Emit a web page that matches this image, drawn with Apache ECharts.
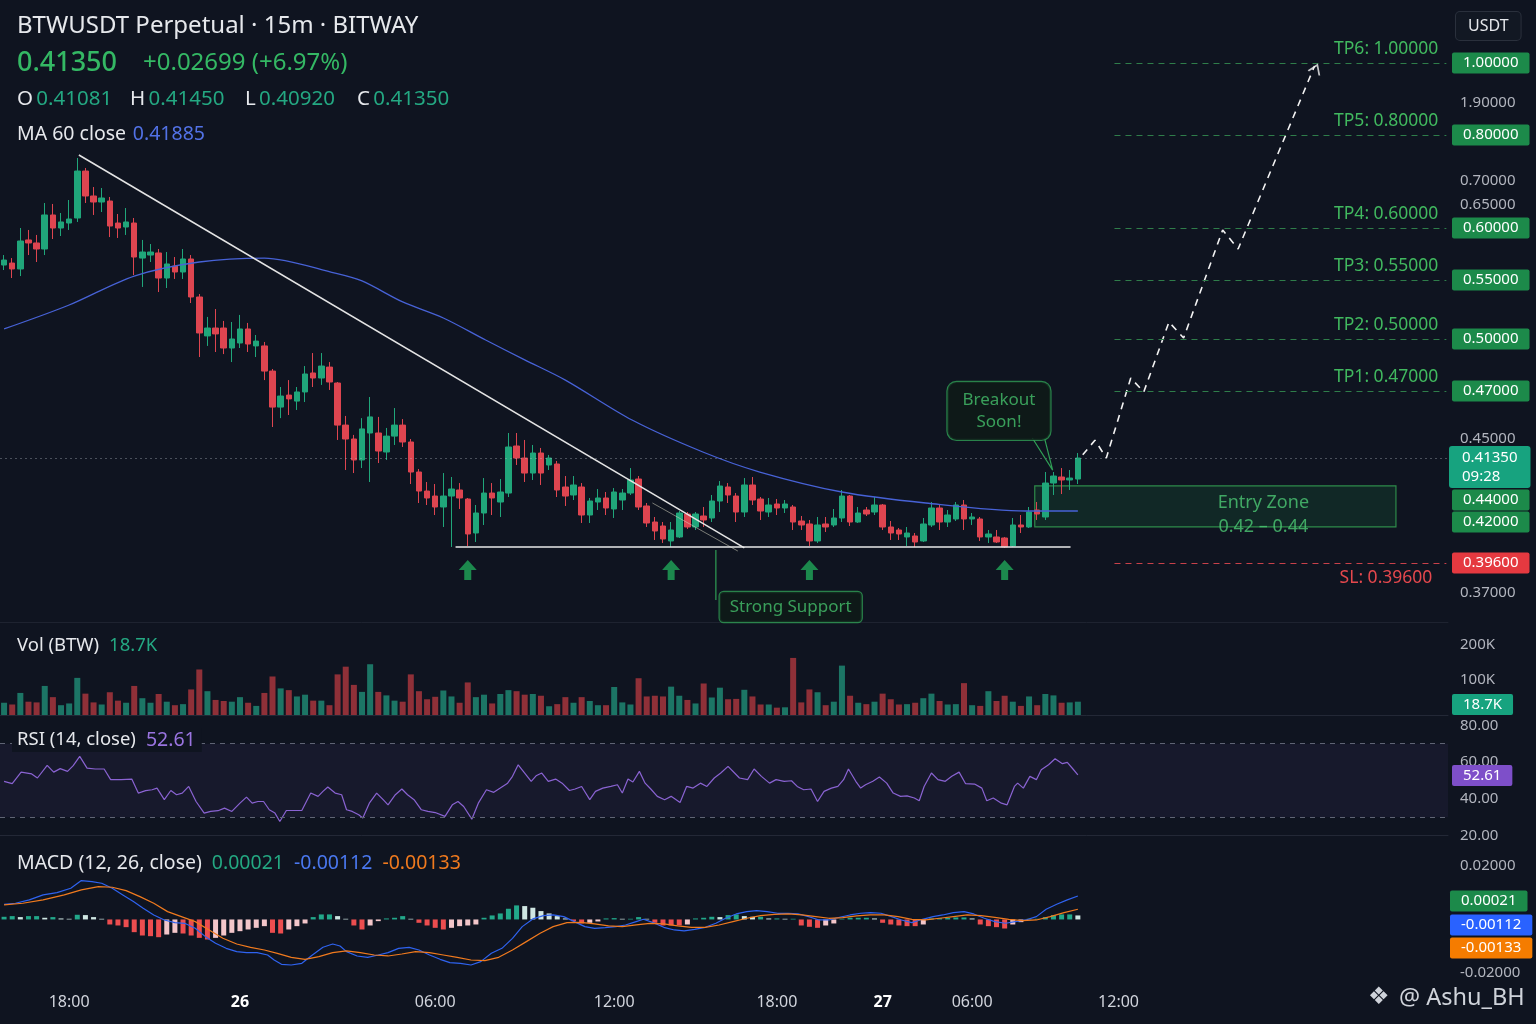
<!DOCTYPE html>
<html>
<head>
<meta charset="utf-8">
<script src="https://cdn.jsdelivr.net/npm/echarts@6/dist/echarts.min.js"></script>
<style>
html,body{margin:0;padding:0;background:#0f1420;}
#c{width:1536px;height:1024px;}
</style>
</head>
<body>
<div id="c"></div>
<script>
// ---------------- DATA ----------------
const titleText = 'BTWUSDT Perpetual · 15m · BITWAY';
const lastPriceText = '0.41350';
const changeText = '+0.02699 (+6.97%)';
const ohlcText = ['0.41081', '0.41450', '0.40920', '0.41350'];
const maText = '0.41885';
const volText = '18.7K';
const rsiText = '52.61';
const macdTexts = ['0.00021', '-0.00112', '-0.00133'];
const countdownText = '09:28';

const slotCount = 178;
const xTickIndex = [8, 29, 53, 75, 95, 108, 119, 137];
const xTickLabels = ['18:00', '26', '06:00', '12:00', '18:00', '27', '06:00', '12:00'];

// price axis of the reference (non-linear): prices and their axis levels
const scalePrices = [0.37, 0.396, 0.42, 0.44, 0.45, 0.47, 0.50, 0.55, 0.60, 0.70, 0.80, 0.90, 1.00];
const scaleLevels = [29, 59, 100, 122, 183, 231, 283, 342, 394, 441, 487, 519, 559];
const yTickPrices = [0.9, 0.7, 0.65, 0.45, 0.37];
const yTickText = ['1.90000', '0.70000', '0.65000', '0.45000', '0.37000'];

// [open, close, low, high]
const candles = [
[0.5644,0.5692,0.5596,0.5740],[0.5663,0.5606,0.5519,0.5711],[0.5606,0.5875,0.5538,0.6000],[0.5885,0.5856,0.5740,0.5981],
[0.5856,0.5798,0.5673,0.5933],[0.5798,0.6277,0.5740,0.6532],[0.6277,0.6000,0.5894,0.6511],[0.6000,0.6128,0.5923,0.6319],
[0.6106,0.6191,0.5981,0.6596],[0.6213,0.7217,0.6128,0.7500],[0.7217,0.6681,0.6532,0.7283],[0.6681,0.6553,0.6277,0.6872],
[0.6553,0.6638,0.6340,0.6851],[0.6574,0.6042,0.5913,0.6660],[0.6106,0.6000,0.5904,0.6298],[0.6021,0.6128,0.5933,0.6425],
[0.6106,0.5721,0.5548,0.6213],[0.5711,0.5769,0.5441,0.5885],[0.5740,0.5769,0.5673,0.5846],[0.5760,0.5519,0.5398,0.5798],
[0.5519,0.5654,0.5432,0.5769],[0.5634,0.5577,0.5510,0.5721],[0.5577,0.5702,0.5510,0.5798],[0.5702,0.5356,0.5305,0.5740],
[0.5356,0.5051,0.4896,0.5381],[0.5026,0.5093,0.4960,0.5187],[0.5093,0.5043,0.4925,0.5254],[0.5093,0.4948,0.4913,0.5153],
[0.4948,0.5000,0.4867,0.5144],[0.4977,0.5085,0.4948,0.5204],[0.5085,0.4971,0.4925,0.5136],[0.4960,0.4988,0.4896,0.5034],
[0.4960,0.4815,0.4763,0.4983],[0.4815,0.4633,0.4550,0.4827],[0.4633,0.4679,0.4587,0.4723],[0.4683,0.4667,0.4600,0.4763],
[0.4658,0.4696,0.4621,0.4723],[0.4696,0.4798,0.4654,0.4844],[0.4804,0.4775,0.4723,0.4919],[0.4775,0.4844,0.4735,0.4919],
[0.4838,0.4752,0.4706,0.4867],[0.4746,0.4558,0.44984,0.4752],[0.4558,0.4500,0.44492,0.4596],[0.4500,0.44656,0.44442,0.4517],
[0.44656,0.4542,0.44524,0.4587],[0.4525,0.4592,0.44295,0.4675],[0.4525,0.44803,0.44606,0.4592],[0.44787,0.4512,0.44656,0.4546],
[0.4512,0.4558,0.44902,0.4629],[0.4558,0.44951,0.44869,0.4583],[0.44951,0.44459,0.44262,0.4500],[0.44459,0.44147,0.43727,0.44508],
[0.44147,0.44033,0.43545,0.44295],[0.44065,0.43364,0.42636,0.44262],[0.43364,0.44065,0.41708,0.44442],[0.44065,0.44180,0.40538,0.44377],
[0.44164,0.44033,0.43182,0.44278],[0.44016,0.41298,0.40596,0.44033],[0.41357,0.42818,0.40830,0.43545],[0.42818,0.44114,0.41825,0.44360],
[0.44114,0.44033,0.42636,0.44278],[0.43818,0.44131,0.42455,0.44344],[0.44114,0.44869,0.44049,0.45250],[0.44885,0.44688,0.44574,0.45250],
[0.44688,0.44442,0.44295,0.44984],[0.44442,0.44770,0.44328,0.44902],[0.44770,0.44442,0.44246,0.44853],[0.44574,0.44688,0.44492,0.44738],
[0.44590,0.44164,0.44049,0.44640],[0.44213,0.44065,0.43455,0.44393],[0.44082,0.44246,0.44000,0.44393],[0.44213,0.42636,0.41942,0.44278],
[0.42636,0.43909,0.41942,0.44033],[0.43818,0.44033,0.43091,0.44180],[0.44033,0.43273,0.42636,0.44131],[0.43182,0.44131,0.42364,0.44196],
[0.44000,0.44114,0.43091,0.44180],[0.44114,0.44328,0.44082,0.44524],[0.44344,0.43364,0.43091,0.44393],[0.43455,0.41942,0.41708,0.43727],
[0.42000,0.41474,0.40947,0.42455],[0.41766,0.41006,0.40772,0.42000],[0.40889,0.41532,0.40538,0.42000],[0.41123,0.42818,0.41064,0.43000],
[0.42727,0.41708,0.41591,0.42909],[0.41708,0.42727,0.41532,0.42909],[0.42545,0.42182,0.41708,0.43364],[0.42364,0.43909,0.42000,0.44082],
[0.43909,0.44229,0.42909,0.44311],[0.44213,0.44082,0.43727,0.44278],[0.44065,0.42909,0.42000,0.44114],[0.42909,0.44246,0.42455,0.44360],
[0.44246,0.44000,0.43545,0.44377],[0.44016,0.43000,0.42182,0.44049],[0.42909,0.43545,0.42455,0.44033],[0.43636,0.43273,0.42636,0.44016],
[0.43273,0.43636,0.42818,0.44000],[0.43364,0.42000,0.41532,0.43545],[0.42091,0.41825,0.41532,0.42545],[0.41883,0.40889,0.40596,0.42182],
[0.40889,0.41825,0.40772,0.42455],[0.41883,0.41708,0.41415,0.42455],[0.41825,0.42364,0.41708,0.43182],[0.42364,0.44065,0.42000,0.44164],
[0.44065,0.42000,0.41766,0.44082],[0.42000,0.42818,0.41942,0.43364],[0.43091,0.42727,0.42545,0.43364],[0.42909,0.43545,0.42636,0.44049],
[0.43545,0.41708,0.41532,0.43636],[0.41708,0.41357,0.40947,0.42091],[0.41532,0.41298,0.40947,0.41649],[0.41123,0.41357,0.40596,0.41708],
[0.41181,0.40830,0.40538,0.41357],[0.40889,0.41883,0.40830,0.42364],[0.41825,0.43273,0.41708,0.43818],[0.43273,0.42000,0.41532,0.43545],
[0.42000,0.42636,0.41708,0.43091],[0.42273,0.43545,0.42091,0.43818],[0.43545,0.42273,0.41532,0.44000],[0.42273,0.42455,0.41825,0.42818],
[0.42273,0.41123,0.40889,0.42455],[0.41123,0.41298,0.40772,0.41532],[0.41123,0.40830,0.40772,0.41532],[0.41064,0.40538,0.40479,0.41123],
[0.40596,0.41825,0.40538,0.42364],[0.41825,0.41708,0.41357,0.42636],[0.41708,0.42909,0.41649,0.43364],[0.43091,0.42727,0.42182,0.43818],
[0.42455,0.44278,0.42182,0.44459],[0.44278,0.44393,0.44082,0.44459],[0.44377,0.44328,0.44098,0.44524],[0.44328,0.44360,0.44164,0.44492],
[0.44344,0.44688,0.44262,0.44770]
];

// MA 60: [candle index, price]
const maPoints = [[0,0.5085],[8,0.5288],[16,0.5538],[24,0.5673],[32,0.5711],[40.7,0.5567],[44,0.5492],[49,0.5314],[54,0.5178],
[59.2,0.4994],[64,0.4880],[69,0.4763],[77.2,0.4579],[85.9,0.44787],[92.9,0.44459],[103,0.44131],[113.3,0.43727],[125.6,0.4300],[132,0.4300]];

// drawn annotations (candle index, price)
const trendMain = [[9.2, 0.7565], [91, 0.4048]];
const trendInner = [[79.7, 0.4373], [90.2, 0.4030]];
const supportLine = [[55.5, 0.4054], [131.1, 0.4054]];
const projection = [[132.6,0.4474],[134.1,0.4498],[135.5,0.4469],[138.5,0.4775],[140.1,0.4696],[143.2,0.5144],[145.0,0.5009],[149.8,0.5981],[151.7,0.5798],[161.1,0.9925]];
const entryZone = { x: [126.7, 171.1], price: [0.4423, 0.4171] };
const tpNames = ['TP6', 'TP5', 'TP4', 'TP3', 'TP2', 'TP1'];
const tpPrices = [1.00, 0.80, 0.60, 0.55, 0.50, 0.47];
const zonePrices = [0.44, 0.42];
const slPrice = 0.396;
const tpSpan = [136.5, 177.3];
const supportArrowIdx = [57, 82, 99, 123];
const arrowPrice = 0.3899;
const breakoutNote = { at: [122.3, 0.4617], text: 'Breakout\nSoon!', tail: [[126.4,0.4504],[128.9,0.4449],[127.9,0.4504]] };
const supportNote = { at: [96.7, 0.3579], text: 'Strong Support', link: [[87.5,0.4036],[87.5,0.3640]] };
const zoneNote = { at: [154.8, 0.42636], text: 'Entry Zone\n0.42 – 0.44' };

// volume (K)
const volumes = [35,30,63,38,36,83,51,28,33,106,61,36,30,65,41,35,83,48,35,60,38,28,31,73,130,68,43,40,38,51,
35,26,63,110,76,71,53,58,41,41,28,116,138,86,66,145,66,56,41,38,116,68,45,52,70,53,35,93,51,58,33,60,71,68,58,60,
55,25,31,51,35,51,40,28,28,80,36,30,105,53,55,53,81,55,43,33,90,50,78,45,46,72,53,30,30,21,22,163,36,73,65,28,38,141,55,35,
31,38,61,45,30,31,35,48,61,40,30,31,91,28,26,68,40,55,38,26,53,28,60,56,35,36,38];
const volTicks = [100, 200];

// RSI (candle index, value)
const rsiPoints = [[0,49.5],[1,48.2],[2.1,54.5],[3.4,53.5],[4.1,51.3],[5.3,58.2],[6.1,54.5],[6.9,56.4],[7.8,54.9],[8.5,58],[9.3,63.1],
[10.2,56.7],[11.2,56.2],[12.3,56.2],[13.1,50.4],[14.4,50.4],[15.7,50.7],[16.5,43.1],[17.4,44.4],[18.2,44.9],[18.8,45.8],[19.7,39.5],
[20.5,44.5],[21.2,42.2],[21.9,43.1],[22.7,46.7],[23.6,38.5],[24.6,32.2],[25.4,33.1],[26.3,33.5],[27.1,34.9],[28,33.1],[29,37.6],
[29.8,40.9],[30.5,37.6],[31.2,38.5],[31.9,38.5],[32.6,34],[33.3,32.2],[33.9,27.6],[34.7,33.6],[35.6,33.6],[36.6,33.6],[37.7,43.1],
[38.6,41.3],[39.2,44],[39.8,46.4],[40.7,43.1],[41.5,42.2],[42.1,34],[42.8,33.1],[43.6,31.3],[44.1,29.5],[44.9,37.6],[45.8,43.1],
[46.6,39.5],[47.2,36.7],[48.1,42.2],[48.9,45.3],[49.6,42.2],[50.4,39.5],[51.3,34],[52.1,33.1],[53,32.5],[54.2,30.4],[55.1,36.7],
[55.8,38.5],[56.5,35.8],[57.5,28.9],[58.3,37.6],[59.3,44.9],[60.2,43.5],[61,45.8],[61.9,48.5],[62.5,52.2],[63.2,58.5],[64,54],
[64.8,49.5],[65.4,52.5],[66.1,54],[66.9,49.5],[67.8,50.7],[68.6,48.5],[69.5,44.5],[70.2,45.3],[71,46.7],[72,39.5],[72.7,44],
[73.6,45.8],[74.6,46.7],[75.4,47.6],[76,43.1],[76.7,50.7],[77.3,49.1],[78.1,54.9],[78.8,48.5],[79.5,45.3],[80.3,41.3],[81.2,39.5],
[82,41.3],[83.1,38],[83.9,46.7],[84.7,45.8],[85.6,48.5],[86.4,46.7],[87.3,51.3],[88.1,54],[89,57.6],[89.8,54],[90.4,51.3],
[91.4,50.4],[92.2,56.2],[93.1,52.2],[94.1,48.5],[94.9,50.4],[95.9,49.5],[96.8,49.8],[97.5,46.7],[98.3,44.9],[99.2,45.3],[100,38.5],
[100.8,44],[101.7,45.8],[102.5,46.7],[103.2,50.4],[103.8,56.2],[104.7,49.5],[105.3,45.8],[105.9,47.6],[106.8,49.5],[107.6,51.8],
[108.5,48.5],[109.3,43.1],[110.2,41.3],[111,41.6],[111.9,40.4],[112.5,38.9],[113.1,46.7],[114,54],[114.8,50.4],[115.7,49.5],
[116.5,52.2],[117.4,54.5],[118.2,48.2],[119.3,48],[120.2,45.8],[120.8,38.9],[121.6,40.4],[122.6,37.6],[123.3,36.7],[124.2,46.7],
[124.6,48.5],[125.3,45.8],[126.1,52.2],[126.9,50.4],[127.5,55.8],[128.4,58.5],[129.2,61.8],[130.1,59.1],[130.7,59.8],[131.4,56.2],[132,53]];
const rsiTicks = [20, 40, 60, 80];

// MACD (candle index, value)
const macdLine = [[0,0.00567],[1.4,0.00605],[3.1,0.0073],[4.8,0.00917],[6.5,0.01004],[8.2,0.01166],[9.5,0.01453],[10.8,0.01415],
[12,0.01353],[13.3,0.01166],[14.6,0.00917],[15.9,0.00667],[17.1,0.00418],[18.4,0.00168],[19.7,-0.00019],[21,-0.00118],[22.2,-0.00143],
[23.5,-0.0033],[24.75,-0.00642],[26,-0.00891],[27.3,-0.01079],[28.6,-0.01203],[29.8,-0.01241],[31.1,-0.01241],[32.4,-0.01328],
[33.2,-0.01515],[34.1,-0.01677],[35.3,-0.01702],[36.6,-0.0164],[37.9,-0.01328],[39.2,-0.01041],[40.4,-0.00917],[41.3,-0.00991],
[42.1,-0.01203],[43.4,-0.01365],[44.7,-0.01415],[46,-0.01328],[47.2,-0.01241],[48.5,-0.01079],[49.8,-0.01041],[51,-0.01141],
[52.3,-0.01328],[53.6,-0.0149],[54.8,-0.01615],[56.1,-0.0164],[57.4,-0.01702],[58.6,-0.01577],[59.9,-0.01266],[61.2,-0.01079],
[62.5,-0.00705],[63.7,-0.00268],[65,0.00019],[66.3,0.00143],[67.5,0.00168],[68.8,0.00106],[70.1,-0.00081],[71.4,-0.00268],
[72.6,-0.0033],[73.9,-0.00306],[75.2,-0.00268],[76.4,-0.00206],[77.7,-0.00081],[78.6,0.00006],[79.8,-0.00118],[81.1,-0.00293],
[82.4,-0.00393],[83.6,-0.0043],[84.9,-0.00368],[86.2,-0.00293],[87.5,-0.00143],[88.7,0.00044],[90,0.00206],[91.3,0.00293],
[92.5,0.0033],[93.8,0.00293],[95.1,0.00231],[96.4,0.00231],[97.6,0.00206],[98.9,0.00106],[100.2,-0.00019],[101.4,-0.00019],
[102.7,0.00081],[104,0.00168],[105.3,0.00231],[106.5,0.00256],[107.8,0.00231],[109.1,0.00106],[110.3,-0.00019],[111.6,-0.00118],
[112.9,0.00006],[114.2,0.00106],[115.4,0.00168],[116.7,0.00256],[118,0.00293],[119.2,0.00206],[120.5,0.00044],[121.8,-0.00081],
[123.1,-0.00143],[124.3,-0.00081],[125.6,-0.00019],[126.9,0.00106],[128.1,0.0038],[129.4,0.00567],[130.7,0.0073],[132,0.00879]];
const signalLine = [[0,0.00542],[2.3,0.00605],[4.8,0.0073],[7.4,0.00917],[9.5,0.01104],[11.6,0.01228],[13.3,0.01203],[15,0.01079],
[16.7,0.00854],[18.4,0.00605],[20.1,0.00293],[21.8,0.00106],[23.5,-0.00081],[25.2,-0.00393],[26.9,-0.00705],[28.6,-0.00917],
[30.3,-0.01041],[32,-0.01141],[33.6,-0.01266],[35.3,-0.01415],[37,-0.0149],[38.7,-0.0139],[40.4,-0.01241],[42.1,-0.01178],
[43.8,-0.01241],[45.5,-0.01328],[47.2,-0.01365],[48.9,-0.01291],[50.6,-0.01203],[52.3,-0.01241],[54,-0.01328],[55.7,-0.01415],
[57.4,-0.01515],[59.1,-0.0154],[60.8,-0.01415],[62.5,-0.01141],[64.2,-0.00829],[65.9,-0.00518],[67.5,-0.00268],[69.2,-0.00118],
[70.9,-0.00106],[72.6,-0.00168],[74.3,-0.00243],[76,-0.00268],[77.7,-0.00206],[79.4,-0.00143],[81.1,-0.00168],[82.8,-0.00243],
[84.5,-0.00293],[86.2,-0.00293],[87.9,-0.00206],[89.6,-0.00081],[91.3,0.00044],[93,0.00143],[94.7,0.00193],[96.4,0.00206],
[98.1,0.00168],[99.8,0.00106],[101.4,0.00044],[103.1,0.00069],[104.8,0.00131],[106.5,0.00168],[108.2,0.00168],[109.9,0.00106],
[111.6,0.00006],[113.3,-0.00019],[115,0.00044],[116.7,0.00106],[118.4,0.00168],[120.1,0.00143],[121.8,0.00081],[123.5,0.00006],
[125.2,-0.00044],[126.9,-0.00019],[128.6,0.00106],[130.3,0.00256],[132,0.0038]];
const macdHist = [0.0010,0.00125,0.00088,0.00125,0.00125,0.00063,0.00088,0.00038,0.00025,0.00175,0.00163,0.00088,0.00025,
-0.00188,-0.00225,-0.00288,-0.00475,-0.006,-0.00625,-0.00663,-0.00563,-0.005,-0.00525,-0.006,-0.00688,-0.0075,-0.00688,-0.006,
-0.005,-0.00438,-0.00375,-0.00313,-0.0025,-0.005,-0.00525,-0.00375,-0.0025,-0.0015,0.00088,0.00188,0.00188,0.00125,0.00025,
-0.00225,-0.00375,-0.00225,-0.00063,0.00038,0.00063,0.00125,0.00025,-0.00125,-0.00225,-0.00313,-0.00375,-0.00313,-0.0025,
-0.00225,-0.00188,0.00063,0.0015,0.00225,0.004,0.00525,0.005,0.00438,0.00313,0.00225,0.00125,0.00038,-0.00063,-0.0015,-0.00125,
-0.00075,0.00038,0.0005,0.00025,0.00025,0.00088,0.00025,-0.00125,-0.00225,-0.00225,-0.00225,-0.00188,0.00038,0.00063,0.001,
0.00088,0.00163,0.00188,0.00125,0.001,0.001,0.00038,0.00038,0.00025,0.00025,-0.00225,-0.00275,-0.00313,-0.00225,-0.0015,
0.00025,0.00063,0.00063,0.00063,0.00038,-0.00125,-0.00188,-0.00225,-0.0025,-0.0025,-0.00188,0.00038,0.0005,0.00063,0.00075,
0.00075,0.00038,-0.00188,-0.0025,-0.00288,-0.00338,-0.00188,-0.001,0.00025,0.00025,0.00088,0.00163,0.00188,0.00188,0.0015];
const macdTicks = [-0.02, 0.02];

// ---------------- SCALE ----------------
function lv(p) {
  const P = scalePrices, L = scaleLevels, n = P.length;
  let k = 0;
  if (p >= P[n - 1]) k = n - 2;
  else if (p > P[0]) { while (k < n - 2 && p >= P[k + 1]) k++; }
  return L[k] + (p - P[k]) * (L[k + 1] - L[k]) / (P[k + 1] - P[k]);
}
const toLv = pts => pts.map(([i, p]) => [i, lv(p)]);

// ---------------- STYLE ----------------
const BG = '#0f1420';
const UP = '#20a67a', DOWN = '#de4550';
const GREEN_TXT = '#41b95f', GREEN_BOX = '#1c8a4a';
const FONT = '"Noto Sans", "Open Sans", sans-serif';
const CLEAR = 'rgba(0,0,0,0)';
const categories = Array.from({ length: slotCount }, (_, i) => String(i));
const lastClose = candles[candles.length - 1][1];

function tagLabel(text, bg) {
  return { show: true, position: 'end', distance: 4, formatter: text, backgroundColor: bg, color: '#ffffff',
    fontSize: 15, fontFamily: FONT, padding: [3, 11, 3, 11], borderRadius: 2 };
}
const hidden = { show: false };
const clearLine = { color: CLEAR, width: 1 };

const chart = echarts.init(document.getElementById('c'), null, { width: 1536, height: 1024 });

const option = {
  backgroundColor: BG,
  animation: false,
  textStyle: { fontFamily: FONT },
  grid: [
    { left: 0, right: 88, top: 0, height: 622 },
    { left: 0, right: 88, top: 625, height: 90 },
    { left: 0, right: 88, top: 717, height: 118.5 },
    { left: 0, right: 88, top: 840, height: 145 }
  ],
  xAxis: [
    { type: 'category', gridIndex: 0, data: categories, axisLabel: hidden, axisTick: hidden, axisLine: { lineStyle: { color: '#1e2330' } } },
    { type: 'value', gridIndex: 0, min: -0.5, max: slotCount - 0.5, show: false },
    { type: 'category', gridIndex: 1, data: categories, axisLabel: hidden, axisTick: hidden, axisLine: { lineStyle: { color: '#232836' } } },
    { type: 'value', gridIndex: 2, min: -0.5, max: slotCount - 0.5, axisLabel: hidden, axisTick: hidden, splitLine: hidden,
      axisLine: { show: true, onZero: false, lineStyle: { color: '#232836' } } },
    { type: 'category', gridIndex: 3, data: categories, axisTick: hidden, axisLine: hidden,
      axisLabel: { interval: (idx) => xTickIndex.indexOf(idx) >= 0, margin: 9, color: '#d1d4dc', fontSize: 16, fontFamily: FONT,
        formatter: (v, idx) => { const k = xTickIndex.indexOf(idx); if (k < 0) return ''; const t = xTickLabels[k]; return t.indexOf(':') < 0 ? '{d|' + t + '}' : t; },
        rich: { d: { color: '#ffffff', fontSize: 16, fontWeight: 'bold', fontFamily: FONT } } } },
    { type: 'value', gridIndex: 3, min: -0.5, max: slotCount - 0.5, show: false }
  ],
  yAxis: [
    { type: 'value', gridIndex: 0, position: 'right', min: 0, max: 622, splitLine: hidden, axisLine: hidden, axisTick: hidden,
      axisLabel: { customValues: yTickPrices.map(lv), color: '#b2b5be', fontSize: 15, margin: 12, fontFamily: FONT,
        formatter: (v) => { for (let k = 0; k < yTickPrices.length; k++) if (Math.abs(lv(yTickPrices[k]) - v) < 0.5) return yTickText[k]; return ''; } } },
    { type: 'value', gridIndex: 1, position: 'right', min: 0, max: 257, splitLine: hidden, axisLine: hidden, axisTick: hidden,
      axisLabel: { customValues: volTicks, color: '#b2b5be', fontSize: 15, margin: 12, fontFamily: FONT,
        formatter: (v) => volTicks.indexOf(v) >= 0 ? v + 'K' : '' } },
    { type: 'value', gridIndex: 2, position: 'right', min: 20, max: 84.5, splitLine: hidden, axisLine: hidden, axisTick: hidden,
      axisLabel: { customValues: rsiTicks, color: '#b2b5be', fontSize: 15, margin: 12, fontFamily: FONT,
        formatter: (v) => rsiTicks.indexOf(v) >= 0 ? v.toFixed(2) : '' } },
    { type: 'value', gridIndex: 3, position: 'right', min: -0.0245, max: 0.0297, splitLine: hidden, axisLine: hidden, axisTick: hidden,
      axisLabel: { customValues: macdTicks, color: '#b2b5be', fontSize: 15, margin: 12, fontFamily: FONT,
        formatter: (v) => macdTicks.indexOf(v) >= 0 ? v.toFixed(5) : '' } }
  ],
  series: [
    { name: 'Candles', type: 'candlestick', xAxisIndex: 0, yAxisIndex: 0, barWidth: 6,
      data: candles.map(c => c.map(lv)),
      itemStyle: { color: UP, color0: DOWN, borderColor: UP, borderColor0: DOWN, borderWidth: 1 },
      markLine: { silent: true, symbol: ['none', 'none'], animation: false,
        data: [{ yAxis: lv(lastClose), lineStyle: { type: [2, 3], color: 'rgba(190,195,205,0.35)', width: 1 },
          label: { show: true, position: 'end', distance: 1, offset: [0, 9], formatter: lastPriceText + '\n' + countdownText, backgroundColor: '#17a37f',
            color: '#ffffff', fontSize: 15, lineHeight: 19, fontFamily: FONT, padding: [2, 13, 2, 13], borderRadius: 3 } }] } },
    { name: 'MA 60', type: 'line', xAxisIndex: 1, yAxisIndex: 0, data: toLv(maPoints), symbol: 'none', smooth: 0.3,
      lineStyle: { color: '#4762d6', width: 1.3 },
      markLine: { silent: true, symbol: ['none', 'none'], animation: false,
        lineStyle: { type: [6, 5], color: '#2f7d4a', width: 1 },
        label: { position: 'insideEndTop', color: GREEN_TXT, fontSize: 17.5, fontFamily: FONT, distance: [8, 5] },
        data: tpPrices.map((p, k) => [{ coord: [tpSpan[0], lv(p)], label: { formatter: tpNames[k] + ': ' + p.toFixed(5) } }, { coord: [tpSpan[1], lv(p)] }])
          .concat([[{ coord: [tpSpan[0], lv(slPrice)], lineStyle: { color: '#c8414a', type: [6, 5], width: 1 },
            label: { formatter: 'SL: ' + slPrice.toFixed(5), position: 'insideEndBottom', color: '#e5484d', distance: [14, 6] } },
            { coord: [tpSpan[1], lv(slPrice)] }]]) } },
    { name: 'Trendline', type: 'line', xAxisIndex: 1, yAxisIndex: 0, data: toLv(trendMain), symbol: 'none',
      lineStyle: { color: '#e4e4e4', width: 1.5 }, z: 3,
      markLine: { silent: true, symbol: ['none', 'none'], animation: false, lineStyle: clearLine,
        data: tpPrices.concat(zonePrices).map(p => ({ yAxis: lv(p), lineStyle: clearLine, label: tagLabel(p.toFixed(5), GREEN_BOX) }))
          .concat([{ yAxis: lv(slPrice), lineStyle: clearLine, label: tagLabel(slPrice.toFixed(5), '#e53940') }]) } },
    { name: 'Trendline 2', type: 'line', xAxisIndex: 1, yAxisIndex: 0, data: toLv(trendInner), symbol: 'none',
      lineStyle: { color: 'rgba(210,210,190,0.55)', width: 1 }, z: 3 },
    { name: 'Support', type: 'line', xAxisIndex: 1, yAxisIndex: 0, data: toLv(supportLine), symbol: 'none',
      lineStyle: { color: '#e8e8e8', width: 1.6 }, z: 3 },
    { name: 'Projection', type: 'line', xAxisIndex: 1, yAxisIndex: 0, data: toLv(projection), symbol: 'none',
      lineStyle: { color: '#f2f2f2', width: 1.6, type: [7, 6] }, z: 4,
      markArea: { silent: true, itemStyle: { color: 'rgba(28,140,70,0.17)', borderColor: '#2e8b4a', borderWidth: 1.2 },
        data: [[{ coord: [entryZone.x[0], lv(entryZone.price[0])] }, { coord: [entryZone.x[1], lv(entryZone.price[1])] }]] } },
    { name: 'Projection head', type: 'scatter', xAxisIndex: 1, yAxisIndex: 0,
      data: [toLv(projection)[projection.length - 1]], symbol: 'path://M0,10 L5,0 L10,10', symbolSize: [12, 9],
      symbolRotate: -23, symbolOffset: [1, 3], itemStyle: { color: 'none', borderColor: '#f2f2f2', borderWidth: 1.6 }, z: 5 },
    { name: 'Support touches', type: 'scatter', xAxisIndex: 0, yAxisIndex: 0,
      data: supportArrowIdx.map(i => [i, lv(arrowPrice)]),
      symbol: 'path://M9,0 L18,10 L12.5,10 L12.5,20 L5.5,20 L5.5,10 L0,10 Z', symbolSize: [18, 20],
      itemStyle: { color: '#1fa659' }, z: 5 },
    { name: 'Callout tail', type: 'line', xAxisIndex: 1, yAxisIndex: 0, data: toLv(breakoutNote.tail), symbol: 'none',
      lineStyle: { color: '#2f9e55', width: 1.2 }, z: 6 },
    { name: 'Support link', type: 'line', xAxisIndex: 1, yAxisIndex: 0, data: toLv(supportNote.link), symbol: 'none',
      lineStyle: { color: '#2f9e55', width: 1.2 }, z: 6 },
    { name: 'Notes', type: 'scatter', xAxisIndex: 1, yAxisIndex: 0, symbol: 'rect', symbolSize: 1,
      itemStyle: { color: CLEAR }, z: 7,
      data: [
        { value: [breakoutNote.at[0], lv(breakoutNote.at[1])], label: { show: true, position: 'inside', formatter: breakoutNote.text,
          color: '#45c06c', fontSize: 17, lineHeight: 22, fontFamily: FONT, align: 'center', backgroundColor: '#0e1a17',
          borderColor: '#2f9e55', borderWidth: 1.2, borderRadius: 9, padding: [7, 15, 7, 15] } },
        { value: [supportNote.at[0], lv(supportNote.at[1])], label: { show: true, position: 'inside', formatter: supportNote.text,
          color: '#45c06c', fontSize: 17, fontFamily: FONT, backgroundColor: '#0e1a17', borderColor: '#2f9e55', borderWidth: 1.2,
          borderRadius: 4, padding: [7, 10, 6, 10] } },
        { value: [zoneNote.at[0], lv(zoneNote.at[1])], label: { show: true, position: 'inside', formatter: zoneNote.text,
          color: '#4cc874', fontSize: 18, lineHeight: 24, fontFamily: FONT, align: 'center' } }
      ] },
    { name: 'Volume', type: 'bar', xAxisIndex: 2, yAxisIndex: 1, barWidth: 6,
      data: volumes.map((v, i) => ({ value: v, itemStyle: { color: candles[i][1] >= candles[i][0] ? '#1c7565' : '#8f3038' } })),
      markLine: { silent: true, symbol: ['none', 'none'], animation: false, lineStyle: clearLine,
        data: [{ yAxis: 30, lineStyle: clearLine, label: tagLabel(volText, '#17a37f') }] } },
    { name: 'RSI', type: 'line', xAxisIndex: 3, yAxisIndex: 2, data: rsiPoints, symbol: 'none',
      lineStyle: { color: '#8a63d2', width: 1.2 },
      markArea: { silent: true, itemStyle: { color: 'rgba(126,87,194,0.08)' }, data: [[{ yAxis: 30 }, { yAxis: 70 }]] },
      markLine: { silent: true, symbol: ['none', 'none'], animation: false,
        data: [
          { yAxis: 70, lineStyle: { type: [5, 5], color: '#5f6474', width: 1 }, label: hidden },
          { yAxis: 30, lineStyle: { type: [5, 5], color: '#5f6474', width: 1 }, label: hidden },
          { yAxis: 52.61, lineStyle: clearLine, label: tagLabel(rsiText, '#7e4fc9') }
        ] } },
    { name: 'MACD hist', type: 'bar', xAxisIndex: 4, yAxisIndex: 3, barWidth: 5,
      data: macdHist.map((v, i) => {
        const pv = i > 0 ? macdHist[i - 1] : 0;
        const col = v >= 0 ? (v >= pv ? '#22a88a' : '#cfe6e2') : (v <= pv ? '#ec4d4f' : '#f3c6ca');
        return { value: v, itemStyle: { color: col } };
      }) },
    { name: 'MACD', type: 'line', xAxisIndex: 5, yAxisIndex: 3, data: macdLine, symbol: 'none', lineStyle: { color: '#2f63f0', width: 1.2 } },
    { name: 'Signal', type: 'line', xAxisIndex: 5, yAxisIndex: 3, data: signalLine, symbol: 'none', lineStyle: { color: '#f07a1e', width: 1.2 } }
  ],
  graphic: [
    { type: 'text', x: 17, y: 26, z: 100, style: { text: titleText, fill: '#e6e8ec', font: '24px ' + FONT, verticalAlign: 'middle' } },
    { type: 'text', x: 17, y: 63, z: 100, style: { text: lastPriceText, fill: '#34b864', font: '500 27px ' + FONT, verticalAlign: 'middle' } },
    { type: 'text', x: 143, y: 63, z: 100, style: { text: changeText, fill: '#34b864', font: '24px ' + FONT, verticalAlign: 'middle' } },
    ...['O', 'H', 'L', 'C'].map((k, j) => ({ type: 'text', x: [17, 130, 245, 357][j], y: 99, z: 100,
      style: { text: '{w|' + k + '} {g|' + ohlcText[j] + '}', verticalAlign: 'middle',
        rich: { w: { fill: '#e6e8ec', font: '20.5px ' + FONT }, g: { fill: '#24a882', font: '20.5px ' + FONT } } } })),
    { type: 'text', x: 17, y: 134, z: 100, style: { text: '{w|MA 60 close}  {b|' + maText + '}', verticalAlign: 'middle',
      rich: { w: { fill: '#e6e8ec', font: '19.5px ' + FONT }, b: { fill: '#5272e6', font: '19.5px ' + FONT } } } },
    { type: 'text', x: 17, y: 646, z: 100, style: { text: '{w|Vol (BTW)}   {g|' + volText + '}', verticalAlign: 'middle',
      rich: { w: { fill: '#e6e8ec', font: '18.5px ' + FONT }, g: { fill: '#24a882', font: '18.5px ' + FONT } } } },
    { type: 'text', x: 12, y: 740, z: 100, style: { text: '{w|RSI (14, close)}   {p|' + rsiText + '}', verticalAlign: 'middle',
      backgroundColor: BG, padding: [2, 6, 2, 5],
      rich: { w: { fill: '#e6e8ec', font: '18.5px ' + FONT }, p: { fill: '#9a74e0', font: '19.5px ' + FONT } } } },
    { type: 'text', x: 17, y: 863, z: 100, style: { text: '{w|MACD (12, 26, close)}   {g|' + macdTexts[0] + '}   {b|' + macdTexts[1] + '}   {o|' + macdTexts[2] + '}',
      verticalAlign: 'middle',
      rich: { w: { fill: '#e6e8ec', font: '19.5px ' + FONT }, g: { fill: '#24a882', font: '19.5px ' + FONT },
        b: { fill: '#4a78f0', font: '19.5px ' + FONT }, o: { fill: '#f07a1e', font: '19.5px ' + FONT } } } },
    ...macdTexts.map((t, j) => ({ type: 'text', x: 1450, y: [901, 925, 948][j], z: 100,
      style: { text: t, fill: '#ffffff', font: '15px ' + FONT, verticalAlign: 'middle', backgroundColor: ['#1c8a4a', '#2962ff', '#f57c00'][j],
        padding: [3, 11, 3, 11], borderRadius: 2 } })),
    { type: 'text', x: 1456, y: 26, z: 100, style: { text: 'USDT', fill: '#e6e8ec', font: '16px ' + FONT, verticalAlign: 'middle',
      backgroundColor: '#121823', borderColor: '#2a303c', borderWidth: 1, borderRadius: 4, padding: [6, 12, 6, 12] } },
    { type: 'text', x: 1368, y: 998, z: 100, style: { text: '❖', fill: '#cfd3da', font: '24px "DejaVu Sans"', verticalAlign: 'middle' } },
    { type: 'text', x: 1399, y: 998, z: 100, style: { text: '@ Ashu_BH', fill: '#cfd3da', font: '23.5px ' + FONT, verticalAlign: 'middle' } }
  ]
};
chart.setOption(option);
</script>
</body>
</html>
